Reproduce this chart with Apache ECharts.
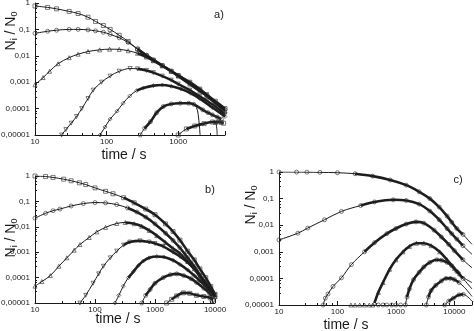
<!DOCTYPE html>
<html><head><meta charset="utf-8">
<script src="https://cdn.jsdelivr.net/npm/echarts@6/dist/echarts.min.js"></script>
<style>html,body{margin:0;padding:0;background:#fff}#c{width:474px;height:331px}</style>
</head><body><div id="c"></div>
<script>
// ---------- Panel a (time 10..4500 s) ----------
const a0 = [[10,0.77],[15,0.68],[20,0.6],[30,0.48],[40,0.4],[55,0.29],[70,0.2],[90,0.14],[112,0.1],[150,0.06],[200,0.035],[270,0.018],[360,0.01],[450,0.0068],[600,0.0042],[800,0.0026],[1000,0.0018],[1450,0.001],[2000,0.00055],[2500,0.00034],[3300,0.00019],[4500,0.0001]];
const a1 = [[10,0.071],[15,0.085],[20,0.093],[30,0.1],[40,0.1],[55,0.096],[70,0.088],[90,0.078],[112,0.065],[150,0.048],[200,0.032],[270,0.018],[360,0.0105],[450,0.007],[600,0.0043],[800,0.0026],[1000,0.0018],[1450,0.00095],[2000,0.00052],[2500,0.00032],[3300,0.00017],[4500,0.00009]];
const a2 = [[10,0.0008],[13,0.0015],[16,0.0026],[21,0.005],[30,0.0085],[40,0.0115],[55,0.0145],[80,0.0168],[110,0.0178],[150,0.0175],[200,0.0155],[270,0.0125],[360,0.009],[450,0.0065],[600,0.0042],[800,0.0026],[1000,0.0017],[1450,0.00085],[2000,0.00046],[2500,0.0003],[3300,0.00016],[4500,0.00008]];
const a3 = [[23.5,0.00001],[27,0.000016],[32,0.000028],[38,0.00005],[45,0.0001],[55,0.00024],[65,0.0005],[85,0.001],[112,0.0017],[150,0.0026],[213,0.0033],[270,0.0032],[360,0.0028],[450,0.0023],[600,0.0017],[800,0.0012],[1000,0.00085],[1450,0.0005],[2000,0.00029],[2500,0.0002],[3300,0.00012],[4500,0.00006]];
const a4 = [[81,0.00001],[95,0.00002],[112,0.00004],[140,0.00008],[170,0.00016],[210,0.0003],[263,0.00048],[325,0.0006],[450,0.00074],[600,0.00078],[800,0.0007],[1100,0.00055],[1500,0.00038],[2000,0.00024],[3000,0.00011],[4500,0.00005]];
const a5 = [[295,0.00001],[340,0.000018],[410,0.000032],[500,0.00007],[620,0.00012],[800,0.00015],[1070,0.00016],[1400,0.00016],[1650,0.000145],[1800,0.00011],[1900,0.00006],[1980,0.00002],[2020,0.00001]];
const a5pts = [[2200,0.00009],[2600,0.00007],[3000,0.000058],[3500,0.000048],[4000,0.00004]];
const a6 = [[1000,0.00001],[1300,0.000017],[1700,0.000022],[2300,0.000027],[3000,0.000031],[3300,0.00003],[3450,0.000018],[3500,0.00001]];
const a6pts = [[3700,0.000032],[4000,0.00003],[4300,0.000028]];

// ---------- Panel b (time 10..10000 s) ----------
const b0 = [[10,1],[15,0.95],[20,0.88],[30,0.75],[40,0.65],[55,0.54],[70,0.46],[100,0.34],[150,0.25],[200,0.2],[300,0.14],[450,0.088],[700,0.05],[1000,0.03],[1500,0.013],[2000,0.0065],[2600,0.003],[3500,0.0011],[4500,0.0005],[5600,0.00022],[7000,0.0001],[8500,0.000045],[10000,0.000022]];
const b1 = [[10,0.022],[15,0.034],[20,0.043],[26,0.05],[40,0.066],[64,0.082],[100,0.09],[150,0.087],[230,0.075],[350,0.055],[500,0.038],[700,0.024],[1000,0.013],[1500,0.0056],[2000,0.0029],[2600,0.0015],[3500,0.0006],[4500,0.00028],[5600,0.00013],[7000,0.00006],[8500,0.00003],[10000,0.000017]];
const b2 = [[10,0.000046],[13,0.00007],[18,0.00012],[25,0.00028],[34,0.0006],[45,0.0012],[56,0.002],[80,0.0038],[107,0.0063],[150,0.0095],[230,0.0135],[320,0.0148],[450,0.0132],[600,0.0105],[800,0.0072],[1070,0.0045],[1500,0.0024],[2000,0.0014],[2600,0.0009],[3500,0.00043],[4500,0.00022],[5600,0.00011],[7000,0.00005],[8500,0.000028],[10000,0.000018]];
const b3 = [[56,0.00001],[70,0.00002],[93,0.00006],[115,0.00014],[138,0.00028],[180,0.0006],[230,0.0011],[300,0.0019],[380,0.0025],[560,0.0028],[800,0.0025],[1000,0.0022],[1370,0.0017],[2000,0.001],[2600,0.00068],[3400,0.00042],[4500,0.00022],[5600,0.00012],[7200,0.00006],[8500,0.000035],[10000,0.00002]];
const b4 = [[215,0.00001],[250,0.00002],[296,0.000046],[360,0.0001],[435,0.00017],[530,0.0003],[640,0.00045],[800,0.0006],[1070,0.00068],[1400,0.00065],[2000,0.00048],[2600,0.00033],[3500,0.0002],[4500,0.00012],[5600,0.000075],[7200,0.000042],[8500,0.000028],[10000,0.000018]];
const b5 = [[600,0.00001],[700,0.00002],[830,0.000034],[1000,0.00006],[1370,0.0001],[1800,0.00013],[2300,0.00014],[3000,0.00012],[4000,0.00009],[4900,0.000065],[6500,0.000038],[8000,0.000025],[8800,0.000019],[9100,0.000012],[9200,0.00001]];
const b6 = [[1560,0.00001],[1900,0.000014],[2300,0.000019],[2970,0.000025],[3800,0.000024],[4900,0.00002],[6500,0.000018],[8300,0.000016],[9000,0.000013],[9300,0.00001]];

// ---------- Panel c (time 10..20000 s) ----------
const c0 = [[10,1],[20,0.99],[30,0.985],[50,0.97],[100,0.94],[200,0.86],[400,0.7],[800,0.5],[1500,0.32],[2500,0.18],[3800,0.1],[5500,0.048],[7500,0.022],[9000,0.013],[11000,0.0075],[14000,0.0045],[20000,0.0019]];
const c1 = [[10,0.0028],[21,0.005],[31,0.0078],[60,0.016],[117,0.033],[250,0.055],[430,0.075],[900,0.09],[1500,0.085],[2500,0.062],[3800,0.034],[5500,0.016],[7500,0.0075],[9000,0.0048],[11000,0.003],[14000,0.0017],[20000,0.0008]];
const c2 = [[57,0.00001],[62,0.000018],[69,0.000026],[84,0.00005],[117,0.000105],[173,0.00033],[290,0.001],[430,0.0022],[700,0.0048],[1000,0.0075],[1500,0.011],[2200,0.0133],[3000,0.012],[4500,0.0065],[6000,0.0036],[8000,0.0019],[10000,0.0011],[14000,0.0005],[20000,0.00025]];
const c3 = [[430,0.000012],[500,0.00003],[600,0.00007],[780,0.00022],[1000,0.0005],[1320,0.001],[1700,0.0016],[2240,0.0021],[3000,0.0021],[4000,0.0017],[5600,0.001],[7500,0.0005],[10000,0.00024],[12300,0.00015],[15000,0.0001],[20000,0.00007]];
const c3pts = [[170,0.00001],[200,0.00001],[240,0.00001],[290,0.00001],[350,0.00001],[400,0.00001]];
const c4 = [[1450,0.00001],[1550,0.00002],[1700,0.00004],[2000,0.00009],[2500,0.00017],[3000,0.00027],[3800,0.0004],[5000,0.0005],[6000,0.00048],[7500,0.0004],[9000,0.0003],[11000,0.00018],[14000,0.0001],[20000,0.00004]];
const c4pts = [[500,0.00001],[600,0.00001],[700,0.00001],[850,0.00001],[1000,0.00001],[1200,0.00001]];
const c5 = [[3300,0.00001],[3600,0.00002],[4000,0.000035],[4800,0.000055],[6000,0.00008],[7200,0.0001],[8500,0.0001],[10000,0.00009],[12000,0.00007],[15000,0.000045],[20000,0.000021]];
const c6 = [[6800,0.00001],[8000,0.000014],[9600,0.000018],[12000,0.000024],[14200,0.000025],[17000,0.00002],[20000,0.000014]];

const yTicks = ['1','0,1','0,01','0,001','0,0001','0,00001'];
const xTicks = ['10','100','1000','10000'];
const panelLabels = ['a)','b)','c)'];

// ---------- chart ----------
const FONT = 'Liberation Sans';
const ink = '#1a1a1a';
const panels = [
  {lines:[a0,a1,a2,a3,a4,a5,a6], extra:[[],[],[],[],[],a5pts,a6pts], xmax:4500, markEnd:[4500,4500,4500,4500,4500,1650,3300], bandFrom:250,
   sym:['rect','circle','triangle','triangle','diamond','circle','rect'], rot:[0,0,0,180,0,0,0]},
  {lines:[b0,b1,b2,b3,b4,b5,b6], extra:[[],[],[],[],[],[],[]], xmax:10000, markEnd:[10000,10000,10000,10000,10000,9000,9000], bandFrom:300,
   sym:['rect','circle','triangle','triangle','diamond','circle','rect'], rot:[0,0,0,180,0,0,0]},
  {lines:[c0,c1,c2,c3,c4,c5,c6], extra:[[],[],[],c3pts,c4pts,[],[]], xmax:20000, markEnd:[14500,14500,14500,14500,14500,14500,14500], bandFrom:200,
   sym:['circle','circle','circle','triangle','circle','circle','circle'], rot:[0,0,0,0,0,0,0]}
];
const grids = [
  {left:35, top:3, width:190, height:132},
  {left:35, top:176, width:180, height:127},
  {left:279, top:172, width:193, height:133}
];

function isDecade(v){ const l = Math.log10(v); return Math.abs(l - Math.round(l)) < 1e-6; }
function yfmt(v){
  if (!isDecade(v)) return '';
  const e = -Math.round(Math.log10(v));
  return yTicks[e] !== undefined ? yTicks[e] : '';
}
function xfmt(v){
  if (!isDecade(v)) return '';
  const e = Math.round(Math.log10(v)) - 1;
  return xTicks[e] !== undefined ? xTicks[e] : '';
}

const xAxis = [], yAxis = [], series = [];
panels.forEach((p, k) => {
  xAxis.push({type:'log', logBase:10, gridIndex:k, min:10, max:p.xmax,
    axisLine:{lineStyle:{color:ink, width:1}},
    axisTick:{inside:true, length:4, lineStyle:{color:ink}},
    minorTick:{show:true, splitNumber:5, length:2, lineStyle:{color:ink}},
    splitLine:{show:false},
    axisLabel:{formatter:xfmt, fontFamily:FONT, fontSize:8, color:ink, margin:3}});
  yAxis.push({type:'log', logBase:10, gridIndex:k, min:0.00001, max:1,
    axisLine:{show:true, lineStyle:{color:ink, width:1}},
    axisTick:{show:true, inside:true, length:4, lineStyle:{color:ink}},
    minorTick:{show:true, splitNumber:5, length:2, lineStyle:{color:ink}},
    splitLine:{show:false},
    axisLabel:{formatter:yfmt, fontFamily:FONT, fontSize:8, color:ink, margin:5}});
  p.lines.forEach((arr, i) => {
    series.push({type:'line', xAxisIndex:k, yAxisIndex:k, data:arr, smooth:0.35,
      showSymbol:false, silent:true, animation:false, z:3,
      lineStyle:{color:ink, width:1}});
    const pts = arr.filter(d => d[0] <= p.markEnd[i]).concat(p.extra[i]).sort((u, v) => u[0] - v[0]);
    series.push({type:'scatter', xAxisIndex:k, yAxisIndex:k, data:pts,
      symbol:p.sym[i], symbolRotate:p.rot[i], symbolSize:4, silent:true, animation:false, z:2,
      itemStyle:{color:'rgba(255,255,255,0)', borderColor:'#333', borderWidth:0.8}});
    // dense run of measured points drawn as a heavy trace
    const band = pts.filter(d => d[0] >= p.bandFrom && d[1] > 0.0000105);
    if (band.length > 1) {
      series.push({type:'line', xAxisIndex:k, yAxisIndex:k, data:band, smooth:0.35,
        showSymbol:false, silent:true, animation:false, z:2,
        lineStyle:{color:'#222', width:2.6}});
    }
  });
});

function yTitle(x, y){
  return {type:'text', x:x, y:y, rotation:Math.PI/2,
    style:{text:'{n|N}{s|i}{n| / N}{s|0}', align:'center', verticalAlign:'middle',
      rich:{n:{fontFamily:FONT, fontSize:14, lineHeight:17, fill:ink},
            s:{fontFamily:FONT, fontSize:9, lineHeight:9, verticalAlign:'bottom', fill:ink}}}};
}
function xTitle(x, y){
  return {type:'text', x:x, y:y, style:{text:'time / s', font:'14px ' + FONT, fill:ink, align:'center', verticalAlign:'middle'}};
}
function pLabel(x, y, t){
  return {type:'text', x:x, y:y, style:{text:t, font:'11px ' + FONT, fill:ink, align:'center', verticalAlign:'middle'}};
}

const chart = echarts.init(document.getElementById('c'), null, {renderer:'canvas'});
chart.setOption({
  animation:false,
  backgroundColor:'#fff',
  grid: grids.map(g => Object.assign({outerBoundsMode:'none', containLabel:false}, g)),
  xAxis, yAxis, series,
  graphic:[
    yTitle(11, 31), yTitle(11, 238), yTitle(251, 205),
    xTitle(124, 155), xTitle(118, 319), xTitle(346, 325),
    pLabel(219, 15, panelLabels[0]), pLabel(210, 190, panelLabels[1]), pLabel(458, 180, panelLabels[2])
  ]
});
</script>
</body></html>
